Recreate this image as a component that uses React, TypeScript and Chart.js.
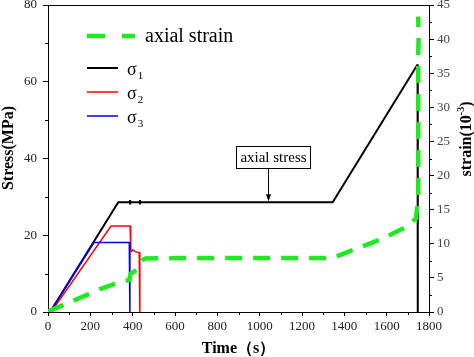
import React, { useEffect, useRef } from 'react';
import { Chart, registerables } from 'chart.js';

Chart.register(...registerables);

// ---- data ----
const sigma1Time = [10, 332, 388, 388, 388, 388, 435, 435, 435, 435, 1345, 1746, 1747];
const sigma1Stress = [0, 28.6, 28.6, 29.2, 28.0, 28.6, 28.6, 29.2, 28.0, 28.6, 28.6, 64.5, 0];

const sigma2Time = [15, 298, 388, 391, 395, 400, 410, 420, 428, 431, 434];
const sigma2Stress = [0, 22.4, 22.4, 16.2, 15.8, 16.2, 15.8, 15.6, 15.5, 15.5, 0];

const sigma3Time = [10, 217, 384, 387];
const sigma3Stress = [0, 18.1, 18.1, 0];

const strainTime = [0, 10, 40, 130, 250, 340, 385, 388, 395, 420, 430, 445, 460, 600, 1340, 1360, 1440, 1570, 1695, 1738, 1745, 1749, 1749, 1751, 1749];
const strainValue = [0, 0.2, 0.6, 1.8, 3.4, 4.4, 4.7, 5.5, 5.7, 6.2, 7.0, 7.6, 7.85, 7.9, 7.9, 8.1, 9.1, 10.6, 12.5, 13.7, 15.5, 17, 38, 40, 43.3];

const xTicksMax = 1800;
const stressMax = 80;
const strainMax = 45;

const legendStrain = 'axial strain';
const legendSigma = ['1', '2', '3'];
const annotationText = 'axial stress';
const annotationTime = 1040;
const annotationStress = 28.6;

const SERIF = "'Liberation Serif', 'Times New Roman', serif";
const GREEN = 'rgb(30,235,30)';
const RED = '#ff0000';
const BLUE = '#0000ee';

const pts = (t: number[], v: number[]) => t.map((x, i) => ({ x, y: v[i] }));

const decorPlugin = {
  id: 'decor',
  afterDraw(chart: any) {
    const ctx = chart.ctx as CanvasRenderingContext2D;
    const { left, right, top, bottom } = chart.chartArea;
    const xs = chart.scales.x;
    const ys = chart.scales.y;
    const y2 = chart.scales.y2;
    ctx.save();
    // top frame
    ctx.strokeStyle = '#000';
    ctx.lineWidth = 1;
    ctx.beginPath();
    ctx.moveTo(left, Math.round(top) + 0.5);
    ctx.lineTo(right, Math.round(top) + 0.5);
    ctx.stroke();
    // minor ticks
    ctx.beginPath();
    for (let v = 100; v < xTicksMax; v += 200) {
      const px = Math.round(xs.getPixelForValue(v)) + 0.5;
      ctx.moveTo(px, bottom);
      ctx.lineTo(px, bottom + 3);
    }
    for (let v = 10; v < stressMax; v += 20) {
      const py = Math.round(ys.getPixelForValue(v)) + 0.5;
      ctx.moveTo(left - 3, py);
      ctx.lineTo(left, py);
    }
    for (let v = 2.5; v < strainMax; v += 5) {
      const py = Math.round(y2.getPixelForValue(v)) + 0.5;
      ctx.moveTo(right, py);
      ctx.lineTo(right + 3, py);
    }
    ctx.stroke();

    // axis titles
    ctx.fillStyle = '#000';
    ctx.font = `bold 16px ${SERIF}`;
    ctx.textAlign = 'center';
    ctx.textBaseline = 'middle';
    ctx.save();
    ctx.translate(9, 148);
    ctx.rotate(-Math.PI / 2);
    ctx.fillText('Stress(MPa)', 0, 0);
    ctx.restore();

    ctx.fillText('Time（s）', (left + right) / 2, 349);

    // right title with superscript
    ctx.save();
    ctx.translate(466, 139);
    ctx.rotate(-Math.PI / 2);
    const p1 = 'strain(10';
    const p2 = '-3';
    const p3 = ')';
    ctx.font = `bold 16px ${SERIF}`;
    const w1 = ctx.measureText(p1).width;
    const w3 = ctx.measureText(p3).width;
    ctx.font = `bold 10px ${SERIF}`;
    const w2 = ctx.measureText(p2).width;
    let x0 = -(w1 + w2 + w3) / 2;
    ctx.textAlign = 'left';
    ctx.textBaseline = 'alphabetic';
    ctx.font = `bold 16px ${SERIF}`;
    ctx.fillText(p1, x0, 5);
    x0 += w1;
    ctx.font = `bold 10px ${SERIF}`;
    ctx.fillText(p2, x0, -2);
    x0 += w2;
    ctx.font = `bold 16px ${SERIF}`;
    ctx.fillText(p3, x0, 5);
    ctx.restore();

    // legend
    ctx.strokeStyle = GREEN;
    ctx.lineWidth = 4.5;
    ctx.beginPath();
    ctx.moveTo(87, 36);
    ctx.lineTo(105, 36);
    ctx.moveTo(122, 36);
    ctx.lineTo(135, 36);
    ctx.stroke();
    ctx.fillStyle = '#000';
    ctx.font = `20px ${SERIF}`;
    ctx.textAlign = 'left';
    ctx.textBaseline = 'middle';
    ctx.fillText(legendStrain, 145, 37);

    const cols = ['#000', RED, BLUE];
    const ys0 = [68, 92, 116];
    legendSigma.forEach((s, i) => {
      ctx.strokeStyle = cols[i];
      ctx.lineWidth = i === 0 ? 2 : 1.5;
      ctx.beginPath();
      ctx.moveTo(87, ys0[i]);
      ctx.lineTo(118, ys0[i]);
      ctx.stroke();
      ctx.fillStyle = '#000';
      ctx.textBaseline = 'alphabetic';
      ctx.font = `18px ${SERIF}`;
      ctx.fillText('σ', 127, ys0[i] + 7);
      const ws = ctx.measureText('σ').width;
      ctx.font = `11px ${SERIF}`;
      ctx.fillText(s, 127 + ws + 1, ys0[i] + 11);
    });

    // annotation
    const ax = xs.getPixelForValue(annotationTime);
    const ay = ys.getPixelForValue(annotationStress);
    ctx.font = `15px ${SERIF}`;
    const tw = ctx.measureText(annotationText).width;
    const bx = Math.round(ax + 5 - tw / 2 - 4) + 0.5;
    const bw = Math.round(tw + 8);
    ctx.strokeStyle = '#000';
    ctx.lineWidth = 1;
    ctx.strokeRect(bx, 146.5, bw, 22);
    ctx.textAlign = 'center';
    ctx.textBaseline = 'middle';
    ctx.fillText(annotationText, bx + bw / 2, 158);
    ctx.beginPath();
    const axr = Math.round(ax) + 0.5;
    ctx.moveTo(axr, 168.5);
    ctx.lineTo(axr, ay - 6);
    ctx.stroke();
    ctx.beginPath();
    ctx.moveTo(axr - 2.5, ay - 8);
    ctx.lineTo(axr + 2.5, ay - 8);
    ctx.lineTo(axr, ay - 1);
    ctx.closePath();
    ctx.fill();
    ctx.restore();
  },
};

export default function App() {
  const ref = useRef<HTMLCanvasElement | null>(null);
  useEffect(() => {
    if (!ref.current) return;
    const tickFont = { family: SERIF, size: 13 };
    const plain = (v: any) => String(v);
    const chart = new Chart(ref.current, {
      type: 'line',
      data: {
        datasets: [
          {
            label: 'axial strain',
            data: pts(strainTime, strainValue),
            yAxisID: 'y2',
            borderColor: GREEN,
            borderWidth: 4.5,
            borderDash: [17, 11],
            pointRadius: 0,
            tension: 0,
            fill: false,
          },
          {
            label: 'σ3',
            data: pts(sigma3Time, sigma3Stress),
            yAxisID: 'y',
            borderColor: BLUE,
            borderWidth: 1.5,
            pointRadius: 0,
            tension: 0,
          },
          {
            label: 'σ2',
            data: pts(sigma2Time, sigma2Stress),
            yAxisID: 'y',
            borderColor: RED,
            borderWidth: 1.5,
            pointRadius: 0,
            tension: 0,
          },
          {
            label: 'σ1',
            data: pts(sigma1Time, sigma1Stress),
            yAxisID: 'y',
            borderColor: '#000',
            borderWidth: 2,
            borderJoinStyle: 'bevel',
            pointRadius: 0,
            tension: 0,
          },
        ],
      },
      options: {
        responsive: false,
        animation: false,
        layout: { padding: { top: 5, left: 0, right: 0, bottom: 0 } },
        plugins: { legend: { display: false }, tooltip: { enabled: false } },
        scales: {
          x: {
            type: 'linear',
            min: 0,
            max: xTicksMax,
            ticks: { stepSize: 200, font: tickFont, color: '#222', padding: 3, maxRotation: 0, autoSkip: false, callback: plain },
            grid: { drawOnChartArea: false, tickLength: 4, tickColor: '#000' },
            border: { color: '#000', width: 1 },
            afterFit: (s: any) => { s.height = 45; s.paddingLeft = 0; s.paddingRight = 0; },
          },
          y: {
            type: 'linear',
            position: 'left',
            min: 0,
            max: stressMax,
            ticks: { stepSize: 20, font: tickFont, color: '#222', padding: 6, callback: plain },
            grid: { drawOnChartArea: false, tickLength: 5, tickColor: '#000' },
            border: { color: '#000', width: 1 },
            afterFit: (s: any) => { s.width = 48; s.paddingTop = 0; s.paddingBottom = 0; },
          },
          y2: {
            type: 'linear',
            position: 'right',
            min: 0,
            max: strainMax,
            ticks: { stepSize: 5, font: tickFont, color: '#444', padding: 3, callback: plain },
            grid: { drawOnChartArea: false, tickLength: 5, tickColor: '#000' },
            border: { color: '#000', width: 1 },
            afterFit: (s: any) => { s.width = 45; s.paddingTop = 0; s.paddingBottom = 0; },
          },
        },
      } as any,
      plugins: [decorPlugin],
    });
    return () => chart.destroy();
  }, []);
  return (
    <div style={{ position: 'absolute', left: 0, top: 0, width: 474, height: 357, background: '#fff' }}>
      <canvas ref={ref} width={474} height={357} style={{ display: 'block' }} />
    </div>
  );
}
